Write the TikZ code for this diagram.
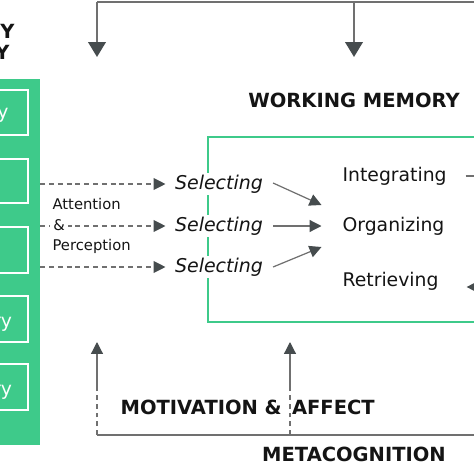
\documentclass[tikz,border=0pt]{standalone}
\usepackage{fontspec}
\setmainfont{DejaVu Sans}
\usepackage{xcolor}
\definecolor{memgreen}{RGB}{62,202,138}
\definecolor{tipgray}{RGB}{70,76,78}
\definecolor{linegray}{RGB}{112,112,112}
\usepackage{tikz}
\usetikzlibrary{arrows.meta}
\usetikzlibrary{positioning}
\usetikzlibrary{calc}

\begin{document}
\begin{tikzpicture}[x = 0.02cm,
                    y = -0.02cm,
                    every node/.style = {text = black!92, inner sep = 1pt},
                    heading/.style = {font = \fontsize{11.1}{13}\selectfont\bfseries},
                    process/.style = {font = \fontsize{10.7}{13}\selectfont, anchor = west},
                    selecting/.style = {font = \fontsize{10.8}{13}\selectfont\itshape, fill = white},
                    smalltext/.style = {font = \fontsize{8.4}{10}\selectfont, anchor = west},
                    bigtip/.style = {-{Triangle[width = 10pt, length = 8.5pt, color = tipgray]}},
                    smalltip/.style = {-{Triangle[width = 6.8pt, length = 6.8pt, color = tipgray]}},
                    feedback/.style = {draw = linegray, line width = 1.1pt},
                    dashline/.style = {draw = linegray, line width = 0.6pt, dash pattern = on 2.8pt off 2.2pt},
                    solidline/.style = {draw = linegray, line width = 0.7pt}]
            \path [use as bounding box, clip] (0,0) rectangle (474,474);

            % Draw the memory panel on the left:
            \node [fill = memgreen, minimum width = 0.9cm, minimum height = 7.32cm] (panel) at (17.5,262) {};
            \foreach \top/\bottom/\xend/\base/\word in {90/135/10.5/118/y, 159/203/10/190/{}, 227/273/10/258/{}, 296/342/14/327/ry, 364/410/14/395/ry} {
                \draw [white, line width = 1.1pt] (-5,\top) rectangle (28,\bottom);
                \node [text = white, font = \fontsize{10.7}{13}\selectfont, anchor = base east] at (\xend,\base) {\word};
            }
            \node [heading, anchor = east] (cornerA) at (16.5,31) {Y};
            \node [heading, anchor = east] (cornerB) at (11.5,52) {Y};

            % Draw the working memory frame:
            \draw [memgreen, line width = 1.7pt] (480,137) -- (208,137) -- (208,322) -- (480,322);
            \node [heading] (wm) at (354,100) {WORKING MEMORY};

            % Draw the processes:
            \foreach \i/\y in {1/184, 2/226, 3/267}
                \node [selecting] (sel\i) at (219,\y) {Selecting};
            \node [process] (integ) at (340.5,176) {Integrating};
            \node [process] (organ) at (340.5,226) {Organizing};
            \node [process] (retr) at (340.5,281) {Retrieving};

            % Draw the attention arrows:
            \foreach \i in {1, 2, 3}
                \draw [dashline, smalltip, shorten > = 0.15cm] (panel.east |- sel\i.west) -- (sel\i.west);
            \node [smalltext] (attention) at (50.5,204) {Attention};
            \node [smalltext, fill = white, inner xsep = 2pt] (amp) at (49.5,225) {\&};
            \node [smalltext] (perception) at (50.5,246) {Perception};

            \draw [solidline, smalltip] ($(sel1.east)+(8,-1)$) -- ($(organ.west)+(-19,-21)$);
            \draw [solidline, smalltip] ($(sel2.east)+(8,0)$) -- ($(organ.west)+(-19,0)$);
            \draw [solidline, smalltip] ($(sel3.east)+(8,0)$) -- ($(organ.west)+(-19,21)$);

            \draw [solidline] ($(integ.east)+(17,0)$) -- +(20,0);
            \coordinate (retr in) at ($(retr.east)+(40,6)$);
            \draw [solidline, smalltip] (retr in) -- ($(retr.east)+(26,6)$);

            % Draw the metacognition loop:
            \coordinate (meta corner) at (97,2);
            \draw [feedback] (480,2) -- (meta corner);
            \draw [feedback, bigtip] (meta corner) -- ++(0,55);
            \draw [feedback, bigtip] (wm.north |- meta corner) -- ++(0,55);

            \coordinate (meta base) at (97,435);
            \draw [solidline, line width = 1pt] (meta base) -- (480,435);
            \foreach \x in {97, 290} {
                \draw [dashline] (\x,435) -- (\x,387);
                \draw [solidline, smalltip] (\x,387) -- (\x,342);
            }
            \node [heading, anchor = west] (motivation) at (118.5,407) {MOTIVATION \& \hspace{2pt}AFFECT};
            \node [heading] (meta) at (354,454) {METACOGNITION};
        \end{tikzpicture}
\end{document}
